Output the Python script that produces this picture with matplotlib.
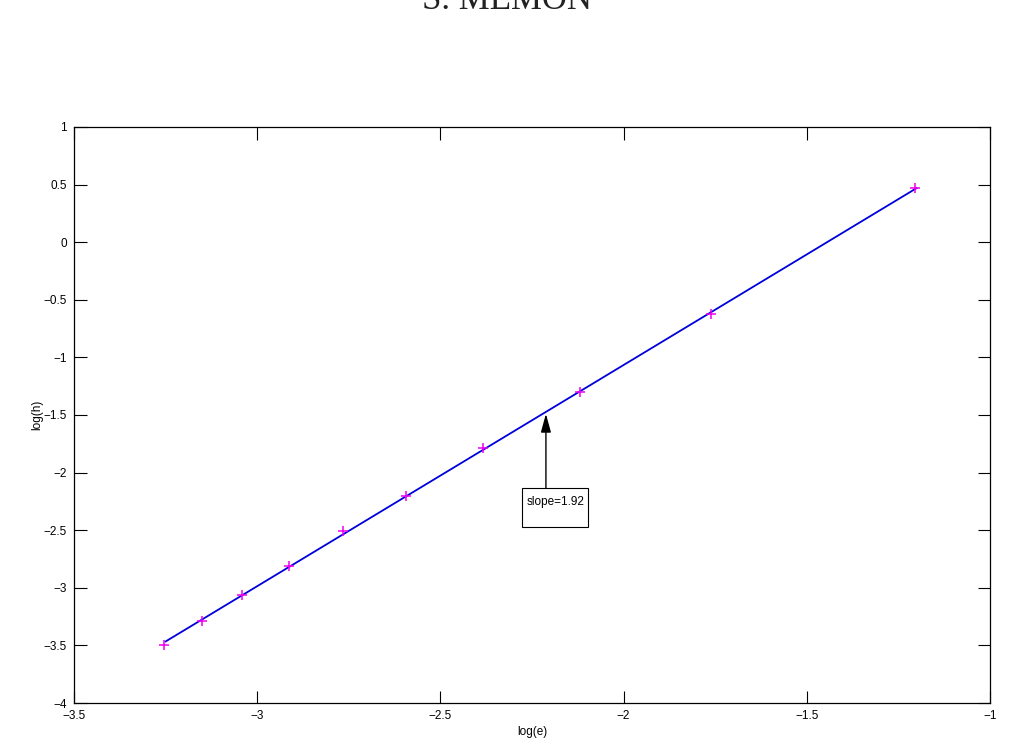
import matplotlib
matplotlib.use('Agg')
import matplotlib.pyplot as plt
from matplotlib.patches import Rectangle
import numpy as np

# measured points (log(e), log(h))
log_e = [-3.254, -3.150, -3.041, -2.913, -2.765, -2.593, -2.383, -2.120, -1.762, -1.205]
log_h = [-3.495, -3.288, -3.062, -2.811, -2.507, -2.203, -1.786, -1.300, -0.623, 0.470]

# fitted line
slope = 1.92
intercept = 2.774
fit_x = [-3.25, -1.2]

# annotation
arrow_x = -2.212
arrow_tip = -1.49
label_text = 'slope=1.92'

plt.rcParams['font.family'] = ['Liberation Sans', 'DejaVu Sans']

fig = plt.figure(figsize=(10.13, 7.53), dpi=100)
ax = fig.add_axes([74/1013, 1 - 703/753, (990-74)/1013, (703-127)/753])

fx = np.array(fit_x)
ax.plot(fx, slope*fx + intercept, color='#0000dd', lw=1.3)
ax.plot(log_e, log_h, '+', color='#ee00ee', ms=7, mew=1.1)

# text box with the slope, MATLAB style (text in the upper part)
ax.add_patch(Rectangle((arrow_x - 0.065, -2.472), 0.18, 0.338,
                       fc='white', ec='black', lw=0.8, zorder=3))
ax.text(arrow_x + 0.025, -2.255, label_text, fontsize=8.5, ha='center', va='center',
        zorder=4)
ax.annotate('', xy=(arrow_x, arrow_tip), xytext=(arrow_x, -2.134),
            arrowprops=dict(arrowstyle='-|>,head_length=0.8,head_width=0.22',
                            color='black', lw=1.0,
                            mutation_scale=14, shrinkA=0, shrinkB=0))

ax.set_xlim(-3.5, -1)
ax.set_ylim(-4, 1)
ax.set_xticks([-3.5, -3, -2.5, -2, -1.5, -1])
ax.set_yticks([-4, -3.5, -3, -2.5, -2, -1.5, -1, -0.5, 0, 0.5, 1])
ax.set_xticklabels(['\u22123.5', '\u22123', '\u22122.5', '\u22122', '\u22121.5', '\u22121'])
ax.set_yticklabels(['\u22124', '\u22123.5', '\u22123', '\u22122.5', '\u22122', '\u22121.5',
                    '\u22121', '\u22120.5', '0', '0.5', '1'])
ax.tick_params(direction='in', length=9, width=0.8, labelsize=8.5,
               top=True, right=True, pad=5)
for s in ax.spines.values():
    s.set_linewidth(0.9)

ax.set_xlabel('log(e)', fontsize=8.5, labelpad=3)
ax.set_ylabel('log(h)', fontsize=8.5, labelpad=0)

fig.text(0.5, 1 - 9/753, 'S. MEMON', ha='center', va='baseline',
         family=['Liberation Serif', 'DejaVu Serif'], fontsize=25, color='#222222')

fig.savefig('out.png', dpi=100)
